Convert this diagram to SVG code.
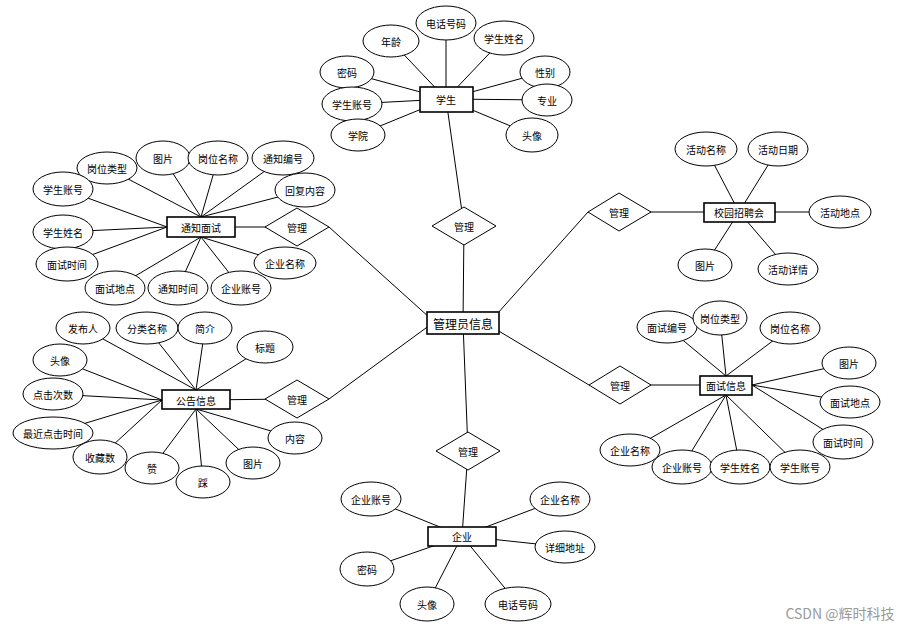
<svg xmlns="http://www.w3.org/2000/svg" width="914" height="631" viewBox="0 0 914 631">
<style>
text{font-family:"Noto Sans CJK SC","Liberation Sans",sans-serif;font-size:10px;fill:#000;text-anchor:middle;dominant-baseline:central}
ellipse,polygon{fill:#fff;stroke:#000;stroke-width:1}
rect{fill:#fff;stroke:#000;stroke-width:1.6}
#connectors line{stroke:#000;stroke-width:1}
</style>
<rect x="0" y="0" width="914" height="631" style="stroke:none"/>
<g id="connectors">
<!-- central links -->
<line x1="446" y1="99" x2="464" y2="226"/><line x1="464" y1="226" x2="463" y2="323"/>
<line x1="201" y1="227" x2="297" y2="227"/><line x1="329" y1="227" x2="430" y2="318"/>
<line x1="196" y1="400" x2="297" y2="399"/><line x1="329" y1="399" x2="430" y2="325"/>
<line x1="726" y1="385" x2="620" y2="385"/><line x1="589" y1="385" x2="497" y2="330"/>
<line x1="739" y1="212" x2="619" y2="212"/><line x1="588" y1="212" x2="497" y2="314"/>
<line x1="463" y1="323" x2="468" y2="451"/><line x1="468" y1="451" x2="462" y2="536"/>
<!-- 学生 -->
<line x1="446" y1="99" x2="391" y2="41"/><line x1="446" y1="99" x2="446" y2="23"/><line x1="446" y1="99" x2="504" y2="38"/>
<line x1="446" y1="99" x2="347" y2="72"/><line x1="446" y1="99" x2="545" y2="72"/><line x1="446" y1="99" x2="352" y2="104"/>
<line x1="446" y1="99" x2="547" y2="100"/><line x1="446" y1="99" x2="358" y2="135"/><line x1="446" y1="99" x2="532" y2="135"/>
<!-- 通知面试 -->
<line x1="201" y1="217" x2="107" y2="168"/><line x1="201" y1="217" x2="163" y2="158"/><line x1="201" y1="217" x2="218" y2="158"/>
<line x1="201" y1="217" x2="283" y2="158"/><line x1="201" y1="217" x2="305" y2="190"/><line x1="167" y1="227" x2="63" y2="189"/>
<line x1="167" y1="227" x2="63" y2="232"/><line x1="167" y1="227" x2="67" y2="264"/><line x1="201" y1="237" x2="285" y2="263"/>
<line x1="201" y1="237" x2="115" y2="288"/><line x1="201" y1="237" x2="178" y2="288"/><line x1="201" y1="237" x2="241" y2="288"/>
<!-- 公告信息 -->
<line x1="196" y1="390" x2="83" y2="328"/><line x1="196" y1="390" x2="147" y2="328"/><line x1="196" y1="390" x2="205" y2="328"/>
<line x1="196" y1="390" x2="265" y2="347"/><line x1="162" y1="400" x2="60" y2="360"/><line x1="162" y1="400" x2="53" y2="394"/>
<line x1="162" y1="400" x2="53" y2="433"/><line x1="162" y1="400" x2="100" y2="457"/><line x1="196" y1="409" x2="152" y2="468"/>
<line x1="196" y1="409" x2="203" y2="482"/><line x1="196" y1="409" x2="253" y2="463"/><line x1="196" y1="409" x2="295" y2="438"/>
<!-- 面试信息 -->
<line x1="726" y1="376" x2="667" y2="327"/><line x1="726" y1="376" x2="720" y2="318"/><line x1="726" y1="376" x2="790" y2="328"/>
<line x1="752" y1="385" x2="849" y2="363"/><line x1="752" y1="385" x2="850" y2="402"/><line x1="752" y1="385" x2="843" y2="442"/>
<line x1="726" y1="395" x2="630" y2="450"/><line x1="726" y1="395" x2="682" y2="467"/><line x1="726" y1="395" x2="740" y2="467"/>
<line x1="726" y1="395" x2="800" y2="467"/>
<!-- 校园招聘会 -->
<line x1="739" y1="212" x2="706" y2="149"/><line x1="739" y1="212" x2="778" y2="149"/><line x1="739" y1="212" x2="840" y2="212"/>
<line x1="739" y1="212" x2="705" y2="265"/><line x1="739" y1="212" x2="788" y2="269"/>
<!-- 企业 -->
<line x1="462" y1="536" x2="371" y2="499"/><line x1="462" y1="536" x2="560" y2="499"/><line x1="462" y1="536" x2="367" y2="569"/>
<line x1="462" y1="536" x2="565" y2="547"/><line x1="462" y1="536" x2="427" y2="604"/><line x1="462" y1="536" x2="518" y2="604"/>
</g>

<g id="admin"><rect x="427" y="312" width="72" height="22"/><text x="463" y="323" style="font-size:12px">管理员信息</text></g>

<g id="rel-student"><polygon points="464,207 496,226 464,245 432,226"/><text x="464" y="226">管理</text></g>
<g id="rel-notice"><polygon points="297,208 329,227 297,246 265,227"/><text x="297" y="227">管理</text></g>
<g id="rel-announce"><polygon points="297,380 329,399 297,418 265,399"/><text x="297" y="399">管理</text></g>
<g id="rel-interview"><polygon points="620,366 651,385 620,404 589,385"/><text x="620" y="385">管理</text></g>
<g id="rel-fair"><polygon points="619,193 651,212 619,231 588,212"/><text x="619" y="212">管理</text></g>
<g id="rel-company"><polygon points="468,432 500,451 468,470 436,451"/><text x="468" y="451">管理</text></g>

<g id="student"><rect x="420" y="87" width="53" height="25"/><text x="446" y="99">学生</text>
<ellipse cx="391" cy="41" rx="28" ry="16"/><text x="391" y="41">年龄</text>
<ellipse cx="446" cy="23" rx="30" ry="17"/><text x="446" y="23">电话号码</text>
<ellipse cx="504" cy="38" rx="30" ry="17"/><text x="504" y="38">学生姓名</text>
<ellipse cx="347" cy="72" rx="27" ry="16"/><text x="347" y="72">密码</text>
<ellipse cx="545" cy="72" rx="25" ry="16"/><text x="545" y="72">性别</text>
<ellipse cx="352" cy="104" rx="30" ry="17"/><text x="352" y="104">学生账号</text>
<ellipse cx="547" cy="100" rx="25" ry="16"/><text x="547" y="100">专业</text>
<ellipse cx="358" cy="135" rx="27" ry="16"/><text x="358" y="135">学院</text>
<ellipse cx="532" cy="135" rx="26" ry="17"/><text x="532" y="135">头像</text>
</g>

<g id="notice"><rect x="167" y="217" width="68" height="20"/><text x="201" y="227">通知面试</text>
<ellipse cx="107" cy="168" rx="30" ry="16"/><text x="107" y="168">岗位类型</text>
<ellipse cx="163" cy="158" rx="27" ry="17"/><text x="163" y="158">图片</text>
<ellipse cx="218" cy="158" rx="30" ry="17"/><text x="218" y="158">岗位名称</text>
<ellipse cx="283" cy="158" rx="31" ry="17"/><text x="283" y="158">通知编号</text>
<ellipse cx="63" cy="189" rx="30" ry="17"/><text x="63" y="189">学生账号</text>
<ellipse cx="305" cy="190" rx="30" ry="17"/><text x="305" y="190">回复内容</text>
<ellipse cx="63" cy="232" rx="30" ry="17"/><text x="63" y="232">学生姓名</text>
<ellipse cx="67" cy="264" rx="31" ry="17"/><text x="67" y="264">面试时间</text>
<ellipse cx="285" cy="263" rx="31" ry="16"/><text x="285" y="263">企业名称</text>
<ellipse cx="115" cy="288" rx="30" ry="17"/><text x="115" y="288">面试地点</text>
<ellipse cx="178" cy="288" rx="30" ry="17"/><text x="178" y="288">通知时间</text>
<ellipse cx="241" cy="288" rx="30" ry="17"/><text x="241" y="288">企业账号</text>
</g>

<g id="announce"><rect x="162" y="390" width="68" height="19"/><text x="196" y="400">公告信息</text>
<ellipse cx="83" cy="328" rx="27" ry="16"/><text x="83" y="328">发布人</text>
<ellipse cx="147" cy="328" rx="31" ry="16"/><text x="147" y="328">分类名称</text>
<ellipse cx="205" cy="328" rx="27" ry="16"/><text x="205" y="328">简介</text>
<ellipse cx="265" cy="347" rx="28" ry="16"/><text x="265" y="347">标题</text>
<ellipse cx="60" cy="360" rx="27" ry="16"/><text x="60" y="360">头像</text>
<ellipse cx="53" cy="394" rx="30" ry="16"/><text x="53" y="394">点击次数</text>
<ellipse cx="53" cy="433" rx="40" ry="16"/><text x="53" y="433">最近点击时间</text>
<ellipse cx="100" cy="457" rx="27" ry="17"/><text x="100" y="457">收藏数</text>
<ellipse cx="152" cy="468" rx="27" ry="16"/><text x="152" y="468">赞</text>
<ellipse cx="203" cy="482" rx="27" ry="16"/><text x="203" y="482">踩</text>
<ellipse cx="253" cy="463" rx="27" ry="16"/><text x="253" y="463">图片</text>
<ellipse cx="295" cy="438" rx="27" ry="16"/><text x="295" y="438">内容</text>
</g>

<g id="interview"><rect x="700" y="376" width="52" height="19"/><text x="726" y="385">面试信息</text>
<ellipse cx="667" cy="327" rx="30" ry="16"/><text x="667" y="327">面试编号</text>
<ellipse cx="790" cy="328" rx="30" ry="16"/><text x="790" y="328">岗位名称</text>
<ellipse cx="720" cy="318" rx="27" ry="17"/><text x="720" y="318">岗位类型</text>
<ellipse cx="849" cy="363" rx="27" ry="16"/><text x="849" y="363">图片</text>
<ellipse cx="850" cy="402" rx="30" ry="16"/><text x="850" y="402">面试地点</text>
<ellipse cx="843" cy="442" rx="30" ry="17"/><text x="843" y="442">面试时间</text>
<ellipse cx="630" cy="450" rx="30" ry="16"/><text x="630" y="450">企业名称</text>
<ellipse cx="682" cy="467" rx="30" ry="17"/><text x="682" y="467">企业账号</text>
<ellipse cx="740" cy="467" rx="30" ry="17"/><text x="740" y="467">学生姓名</text>
<ellipse cx="800" cy="467" rx="30" ry="17"/><text x="800" y="467">学生账号</text>
</g>

<g id="fair"><rect x="704" y="203" width="71" height="19"/><text x="739" y="212">校园招聘会</text>
<ellipse cx="706" cy="149" rx="31" ry="17"/><text x="706" y="149">活动名称</text>
<ellipse cx="778" cy="149" rx="30" ry="17"/><text x="778" y="149">活动日期</text>
<ellipse cx="840" cy="212" rx="31" ry="16"/><text x="840" y="212">活动地点</text>
<ellipse cx="705" cy="265" rx="27" ry="16"/><text x="705" y="265">图片</text>
<ellipse cx="788" cy="269" rx="30" ry="16"/><text x="788" y="269">活动详情</text>
</g>

<g id="company"><rect x="428" y="527" width="68" height="19"/><text x="462" y="536">企业</text>
<ellipse cx="371" cy="499" rx="30" ry="17"/><text x="371" y="499">企业账号</text>
<ellipse cx="560" cy="499" rx="30" ry="17"/><text x="560" y="499">企业名称</text>
<ellipse cx="367" cy="569" rx="27" ry="17"/><text x="367" y="569">密码</text>
<ellipse cx="565" cy="547" rx="30" ry="16"/><text x="565" y="547">详细地址</text>
<ellipse cx="427" cy="604" rx="27" ry="17"/><text x="427" y="604">头像</text>
<ellipse cx="518" cy="604" rx="33" ry="17"/><text x="518" y="604">电话号码</text>
</g>

<text x="840" y="613" style="font-size:14px;fill:#999">CSDN @辉时科技</text>
</svg>
